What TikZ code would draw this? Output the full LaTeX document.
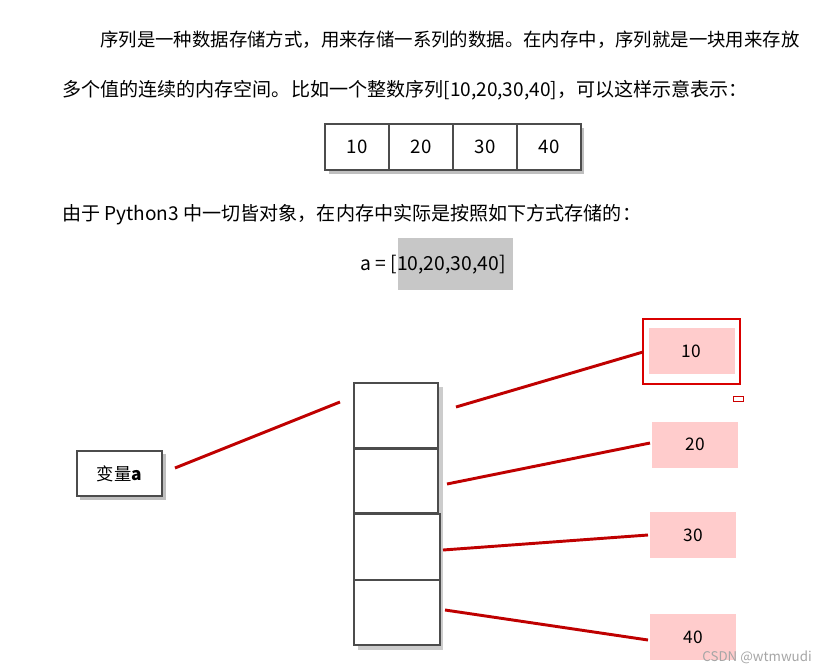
\documentclass[tikz,border=0pt]{standalone}
\usepackage{fontspec}
\setmainfont{Noto Sans CJK SC}
\begin{document}
\begin{tikzpicture}[x=0.75pt,y=-0.75pt,
  cell/.style={draw=black!70,fill=white,line width=0.8pt,minimum height=46*0.75pt,minimum width=64*0.75pt,inner sep=0,font=\fontsize{14}{14}\selectfont},
  stk/.style={draw=black!70,fill=white,line width=0.8pt,inner sep=0},
  pink/.style={fill=red!20,inner sep=0,minimum width=86*0.75pt,minimum height=46*0.75pt,font=\fontsize{13}{13}\selectfont},
  rl/.style={draw=red!75!black,line width=2.2pt},
  txt/.style={anchor=west,inner sep=0,font=\fontsize{14.3}{14.3}\selectfont}]
\useasboundingbox (0,0) rectangle (826,672);
\fill[white] (0,0) rectangle (826,672);
\node[txt,font=\fontsize{13.8}{13.8}\selectfont] (t1) at (100,40) {序列是一种数据存储方式，用来存储一系列的数据。在内存中，序列就是一块用来存放};
\node[txt] (t2) at (62,90) {多个值的连续的内存空间。比如一个整数序列[10,20,30,40]，可以这样示意表示：};
\fill[black!25] (329,128) rectangle (584,174);
\node[cell] (c1) at (357,147) {10};
\node[cell] (c2) at (421,147) {20};
\node[cell] (c3) at (485,147) {30};
\node[cell] (c4) at (549,147) {40};
\node[txt] (t3) at (62,215) {由于 Python3 中一切皆对象，在内存中实际是按照如下方式存储的：};
\fill[black!22] (398,238) rectangle (513,290);
\node[txt,font=\fontsize{14.5}{14.5}\selectfont] (ta) at (360,265) {a = [10,20,30,40]};
% stack
\fill[black!20] (358,387) rectangle (443,650);
\node[stk,minimum width=84*0.75pt,minimum height=65*0.75pt] (s1) at (396,415.5) {};
\node[stk,minimum width=84*0.75pt,minimum height=64*0.75pt] (s2) at (396,481) {};
\node[stk,minimum width=86*0.75pt,minimum height=66*0.75pt] (s3) at (397,547) {};
\node[stk,minimum width=86*0.75pt,minimum height=65*0.75pt] (s4) at (397,612.5) {};
% variable a
\fill[black!25] (80,454) rectangle (166,500);
\node[stk,minimum width=85*0.75pt,minimum height=45*0.75pt,font=\fontsize{13}{13}\selectfont] (va) at (119.5,473.5) {变量\textbf{a}};
% pink boxes
\node[pink] (p1) at (691.5,351) {10};
\draw[red!85!black,line width=2pt] (643,319) rectangle (740,384);
\node[pink] (p2) at (695,444.5) {20};
\node[pink] (p3) at (693,535) {30};
\node[pink] (p4) at (693,637) {40};
\draw[red!80!black,line width=0.6pt] (733,396) rectangle (743,401);
% lines
\coordinate (a1) at (175,468); \coordinate (a2) at (340,402);
\draw[rl] (a1) -- (a2);
\coordinate (b1) at (456,407); \coordinate (b2) at (643,352);
\draw[rl] (b1) -- (b2);
\coordinate (c1s) at (447,484); \coordinate (c2s) at (650,443);
\draw[rl] (c1s) -- (c2s);
\coordinate (d1) at (443,550); \coordinate (d2) at (648,535);
\draw[rl] (d1) -- (d2);
\coordinate (e1) at (445,610); \coordinate (e2) at (648,640);
\draw[rl] (e1) -- (e2);
\node[anchor=east,inner sep=0,text=black!35,font=\fontsize{10}{10}\selectfont] (wm) at (812,657) {CSDN @wtmwudi};
\end{tikzpicture}
\end{document}
